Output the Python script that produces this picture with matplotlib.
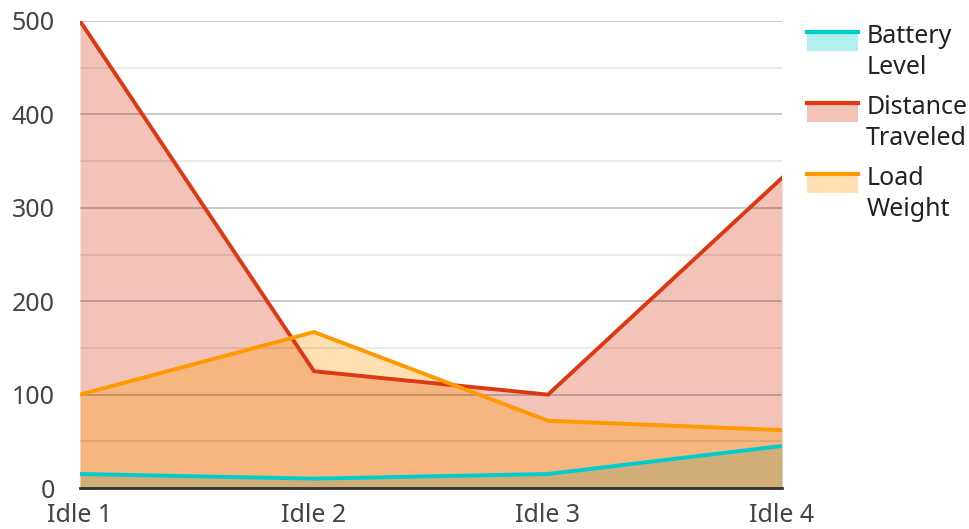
import matplotlib
matplotlib.use("Agg")
import matplotlib.pyplot as plt
from matplotlib.lines import Line2D
from matplotlib.patches import Rectangle
from matplotlib.legend_handler import HandlerBase

plt.rcParams['font.family'] = ['Noto Sans', 'DejaVu Sans']

categories = ["Idle 1", "Idle 2", "Idle 3", "Idle 4"]
battery = [15, 10, 15, 45]
distance = [500, 125, 100, 332]
load = [100, 167, 72, 62]
series_names = ["Battery\nLevel", "Distance\nTraveled", "Load\nWeight"]
colors = ["#00cccc", "#dc3912", "#ff9900"]
yticks = [0, 100, 200, 300, 400, 500]

fig = plt.figure(figsize=(9.69, 5.29), dpi=100)
ax = fig.add_axes([80/969, 1-488/529, (782-80)/969, (488-21)/529])

x = list(range(len(categories)))
for vals, c in zip([battery, distance, load], colors):
    ax.fill_between(x, 0, vals, color=c, alpha=0.3, linewidth=0, zorder=1)
for vals, c, z in zip([battery, distance, load], colors, [5, 3, 4]):
    ax.plot(x, vals, color=c, linewidth=2.8, zorder=z, solid_joinstyle='miter')

ax.set_xlim(0, 3)
ax.set_ylim(0, 500)
ax.set_yticks(yticks)
ax.set_yticks([50, 150, 250, 350, 450], minor=True)
ax.set_xticks(x)
ax.set_xticklabels(categories)
ax.grid(True, which='major', axis='y', color='black', alpha=0.21, linewidth=1.4, zorder=2)
ax.grid(True, which='minor', axis='y', color='black', alpha=0.09, linewidth=1.4, zorder=2)
ax.set_axisbelow(False)
for s in ['left', 'right', 'top']:
    ax.spines[s].set_visible(False)
ax.spines['bottom'].set_color('#333333')
ax.spines['bottom'].set_linewidth(2)
ax.spines['bottom'].set_zorder(6)
ax.tick_params(axis='both', which='both', length=0, labelsize=18, colors='#444444')
ax.tick_params(axis='y', pad=18)
ax.tick_params(axis='x', pad=10.5)

class AreaHandler(HandlerBase):
    def create_artists(self, legend, orig, xdescent, ydescent, width, height, fontsize, trans):
        c = orig.get_color()
        top = height - ydescent + 10
        rect = Rectangle((-xdescent, top - 15), width, 15, facecolor=c, alpha=0.3,
                         linewidth=0, transform=trans)
        ln = Line2D([-xdescent, -xdescent + width], [top - 1.5, top - 1.5], color=c,
                    linewidth=3, transform=trans)
        return [rect, ln]

handles = [Line2D([], [], color=c) for c in colors]
leg = fig.legend(handles, series_names, loc='upper left', bbox_to_anchor=(807/969, 1 - 24/529),
                 frameon=False, fontsize=18, handlelength=2.05, handletextpad=0.32,
                 borderpad=0, borderaxespad=0,
                 labelspacing=0.62, handler_map={Line2D: AreaHandler()})
for t in leg.get_texts():
    t.set_color('#222222')
    t.set_linespacing(1.3)

fig.savefig("out.png", dpi=100)
